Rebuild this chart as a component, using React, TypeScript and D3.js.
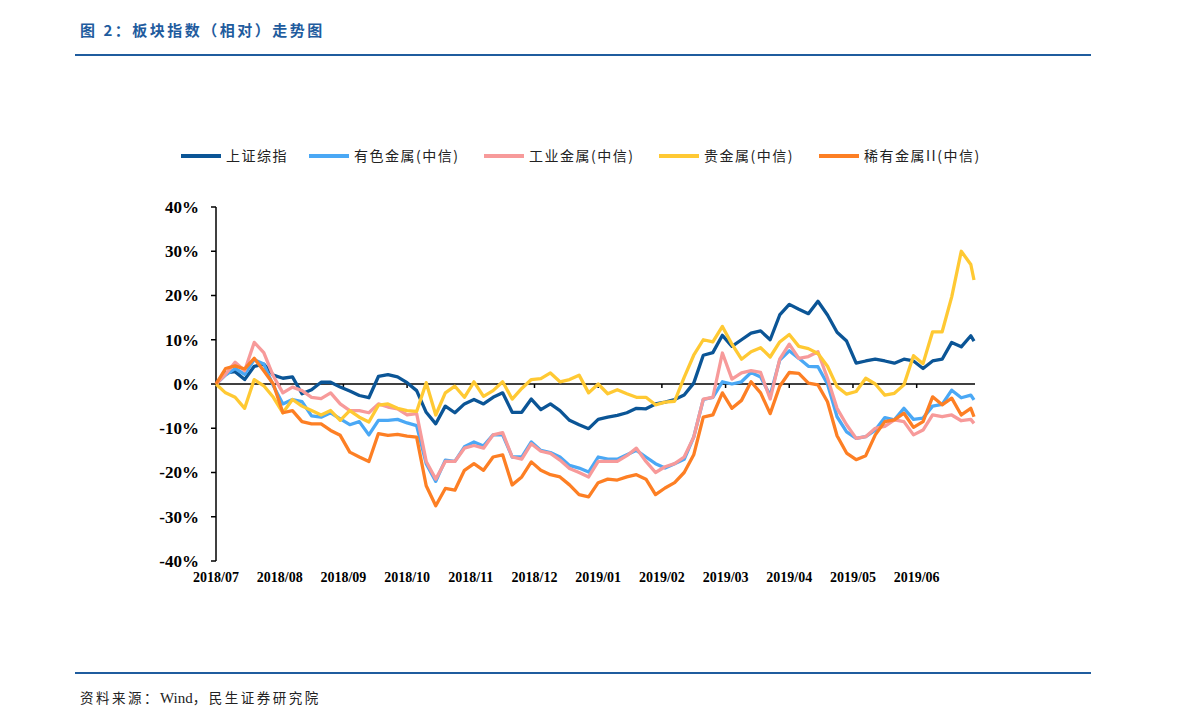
import React, { useRef, useEffect } from "react";
import * as d3 from "d3";

// 相对走势（%），每 3 个交易日取一个点，最后一点为区间末日
const shangzheng = [
  0, 2.5, 2.8, 1.0, 4, 4.5, 2, 1.3, 1.6, -2.2, -1.3, 0.4, 0.4, -0.7, -1.6, -2.6, -3.1, 1.7, 2.1, 1.6, 0.3,
  -1.5, -6.4, -9, -5, -6.5, -4.5, -3.5, -4.5, -3, -2, -6.4, -6.4, -3.4, -5.8, -4.5, -6, -8.2, -9.2, -10.1, -8,
  -7.5, -7.1, -6.5, -5.5, -5.6, -4.5, -4.1, -3.5, -2.5, 0.2, 6.5, 7.1, 11, 8.5, 10, 11.5, 12, 10, 15.6, 18,
  16.9, 15.9, 18.7, 15.6, 11.7, 9.7, 4.7, 5.2, 5.6, 5.2, 4.7, 5.6, 5.2, 3.5, 5.2, 5.6, 9.4, 8.4, 10.9, 9.7,
];
const youse = [
  0, 2, 3.5, 2.2, 5.5, 4.5, -0.4, -4.5, -3.5, -4, -7.2, -7.5, -6.5, -7.9, -9.2, -8.5, -11.5, -8.2, -8.2, -8, -8.8,
  -9.4, -18, -22, -17.2, -17.5, -14.2, -13.1, -14, -11.5, -11.5, -16.5, -16.5, -13.1, -15, -15.5, -16.5, -18.4, -19, -19.9, -16.5,
  -17, -17, -16, -15, -16.5, -18, -19, -18, -17, -12, -3.5, -3, 0.5, 0, 0.5, 2.6, 1.6, -2.6, 5.4, 7.5,
  5.8, 4, 3.9, 0, -7.4, -10.8, -12.3, -11.9, -10.4, -7.6, -8.1, -5.5, -8, -7.7, -5, -4.6, -1.4, -3.1, -2.5, -3.6,
];
const gongye = [
  0, 2.2, 4.9, 3, 9.4, 7.1, 1.8, -2, -0.7, -1.5, -3, -3.3, -2, -4.5, -6, -6, -6.5, -4.5, -5.2, -5.6, -7,
  -6.7, -17.5, -21.5, -17.5, -17.5, -14.5, -13.9, -14.5, -11.5, -11, -16.5, -17, -13.5, -15.2, -15.7, -17.2, -19.1, -20, -21, -17.5,
  -17.5, -17.5, -16.2, -14.5, -17.5, -20, -18.7, -18, -16.5, -12, -3.4, -3, 7, 1.1, 2.5, 3, 2.6, -3.4, 5.6, 9,
  5.8, 6.2, 7.3, 1.3, -5.5, -9.2, -12.3, -11.9, -10, -9.6, -8.1, -8.5, -11.5, -10.4, -7, -7.4, -7, -8.3, -8, -8.9,
];
const guijinshu = [
  0, -2, -3, -5.5, 1, -0.4, -3, -6.5, -3.5, -5, -6, -7, -6, -8.2, -6, -7.5, -8.6, -4.8, -4.5, -5.5, -6,
  -6.2, 0.3, -7, -2, -0.5, -3, 0.5, -2.8, -1.5, 0.5, -3.4, -1, 1, 1.2, 2.5, 0.5, 1, 2, -2, 0,
  -2.2, -1.3, -2.2, -3, -3, -4.7, -4.1, -3.9, 1.5, 6.5, 10, 9.5, 13, 9, 5.6, 7.3, 8.2, 6.1, 9.5, 11.2,
  8.5, 8, 6.9, 4, -0.6, -2.3, -1.7, 1.3, 0, -2.5, -2.1, -0.2, 6.4, 4.6, 11.8, 11.8, 19.7, 30, 27, 23.5,
];
const xiyou = [
  0, 3.5, 4.1, 3.4, 5.8, 3, 0, -6.5, -6, -8.5, -9, -9, -10.5, -11.6, -15.4, -16.5, -17.5, -11.2, -11.6, -11.4, -11.8,
  -12, -23, -27.5, -23.6, -24, -19.5, -18, -19.5, -16.5, -16, -22.8, -21, -17.6, -19.5, -20.5, -21, -22.8, -25, -25.5, -22.3,
  -21.5, -21.7, -21, -20.5, -21.5, -25, -23.5, -22.3, -20, -16, -7.5, -7, -2, -5.5, -3.7, 0.5, -2, -6.7, -0.5, 2.6,
  2.4, 0.2, -0.2, -4, -11.7, -15.6, -17.1, -16.2, -11.5, -8.5, -8.1, -6.6, -9.8, -8.5, -2.9, -4.7, -3.2, -7, -5.5, -7.4,
];

const seriesNames = ["上证综指", "有色金属(中信)", "工业金属(中信)", "贵金属(中信)", "稀有金属II(中信)"];
const seriesColors = ["#0b5596", "#4aa8f5", "#f79a9a", "#ffc933", "#fd7f24"];
const monthLabels = [
  "2018/07", "2018/08", "2018/09", "2018/10", "2018/11", "2018/12",
  "2019/01", "2019/02", "2019/03", "2019/04", "2019/05", "2019/06",
];
const yTicks = [40, 30, 20, 10, 0, -10, -20, -30, -40];

const STEP = 3; // 每个点间隔的交易日
const LAST_DAY = 238;
const MONTH_DAYS = 20; // 横轴刻度间隔

const App = () => {
  const chartRef = useRef(null);

  useEffect(() => {
    const svg = d3.select(chartRef.current);
    svg.selectAll("*").remove();

    const x = d3.scaleLinear().domain([0, LAST_DAY]).range([216, 974]);
    const y = d3.scaleLinear().domain([-40, 40]).range([561, 207]);
    const blue = "#1f5c9e";
    const cjk = "'Noto Sans CJK SC', sans-serif";
    const serif = "'Liberation Serif', 'Times New Roman', serif";

    // 标题与分隔线
    svg.append("text")
      .attr("x", 80).attr("y", 36)
      .attr("fill", blue)
      .style("font-family", cjk).style("font-size", "15px").style("font-weight", "bold")
      .style("letter-spacing", "2.5px")
      .text("图 2：板块指数（相对）走势图");
    svg.append("line").attr("x1", 75).attr("x2", 1091).attr("y1", 55).attr("y2", 55)
      .attr("stroke", blue).attr("stroke-width", 2);
    svg.append("line").attr("x1", 75).attr("x2", 1091).attr("y1", 673).attr("y2", 673)
      .attr("stroke", blue).attr("stroke-width", 2);

    const source = svg.append("text")
      .attr("x", 80).attr("y", 703)
      .attr("fill", "#222")
      .style("font-family", cjk).style("font-size", "13.5px");
    source.append("tspan").style("letter-spacing", "2.5px").text("资料来源：");
    source.append("tspan").style("font-family", serif).style("font-size", "15px").text("Wind");
    source.append("tspan").style("letter-spacing", "2.5px").text("，民生证券研究院");

    // 图例
    const legendX = [181, 309, 484, 659, 819];
    const legend = svg.append("g");
    seriesNames.forEach((name, i) => {
      legend.append("line")
        .attr("x1", legendX[i]).attr("x2", legendX[i] + 40)
        .attr("y1", 156).attr("y2", 156)
        .attr("stroke", seriesColors[i]).attr("stroke-width", 4);
      legend.append("text")
        .attr("x", legendX[i] + 45).attr("y", 161)
        .attr("fill", "#222")
        .style("font-family", cjk).style("font-size", "14px")
        .style("letter-spacing", "1.5px")
        .text(name);
    });

    // 纵轴
    const yAxis = svg.append("g");
    yAxis.append("line").attr("x1", 216).attr("x2", 216).attr("y1", y(40)).attr("y2", y(-40))
      .attr("stroke", "#000").attr("stroke-width", 1.5);
    yTicks.forEach((t) => {
      yAxis.append("line").attr("x1", 211).attr("x2", 216).attr("y1", y(t)).attr("y2", y(t))
        .attr("stroke", "#000").attr("stroke-width", 1.5);
      yAxis.append("text")
        .attr("x", 199).attr("y", y(t)).attr("dy", "0.35em")
        .attr("text-anchor", "end")
        .style("font-family", serif).style("font-size", "17px").style("font-weight", "bold")
        .text(`${t}%`);
    });

    // 零轴及月份刻度
    svg.append("line").attr("x1", 216).attr("x2", 975).attr("y1", y(0)).attr("y2", y(0))
      .attr("stroke", "#000").attr("stroke-width", 1.5);
    monthLabels.forEach((label, i) => {
      const d = i * MONTH_DAYS;
      if (i > 0) {
        svg.append("line").attr("x1", x(d)).attr("x2", x(d)).attr("y1", y(0)).attr("y2", y(0) + 4)
          .attr("stroke", "#000").attr("stroke-width", 1.5);
      }
      svg.append("text")
        .attr("x", x(d)).attr("y", 577).attr("dy", "0.35em")
        .attr("text-anchor", "middle")
        .style("font-family", serif).style("font-size", "14px").style("font-weight", "bold")
        .text(label);
    });

    // 折线
    const line = d3.line()
      .x((_, i) => x(Math.min(i * STEP, LAST_DAY)))
      .y((d) => y(d));
    [shangzheng, youse, gongye, guijinshu, xiyou].forEach((values, i) => {
      svg.append("path")
        .datum(values)
        .attr("d", line)
        .attr("fill", "none")
        .attr("stroke", seriesColors[i])
        .attr("stroke-width", 3.3)
        .attr("stroke-linejoin", "round");
    });
  }, []);

  return (
    <div style={{ position: "absolute", left: 0, top: 0 }}>
      <svg ref={chartRef} width={1191} height={726} style={{ display: "block", background: "#fff" }} />
    </div>
  );
};

export default App;
